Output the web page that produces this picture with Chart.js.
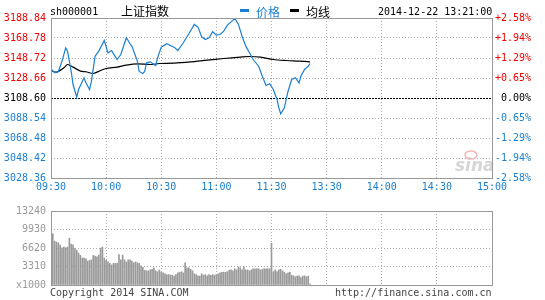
<!DOCTYPE html>
<html>
<head>
<meta charset="utf-8">
<script src="https://cdn.jsdelivr.net/npm/chart.js@4.4.1/dist/chart.umd.min.js"></script>
<style>
  html, body { margin: 0; padding: 0; background: #fff; }
  #wrap { position: relative; width: 545px; height: 300px; overflow: hidden;
          font-family: "DejaVu Sans Mono", monospace; font-size: 10px; }
  canvas { position: absolute; left: 0; }
  #priceChart { top: 0; }
  #volChart { top: 200px; }
  .txt { position: absolute; white-space: nowrap; line-height: 12px; }
  .cjk { font-family: "Noto Sans CJK SC", sans-serif; font-size: 12px; line-height: 14px; }
  .dash { position: absolute; width: 9px; height: 3px; }
</style>
</head>
<body>
<div id="wrap">
  <canvas id="priceChart" width="545" height="200"></canvas>
  <canvas id="volChart" width="545" height="100"></canvas>

  <div class="txt" style="left:50px; top:6px; color:#000;">sh000001</div>
  <div class="txt cjk" style="left:121px; top:4px; color:#000;">上证指数</div>
  <div class="dash" style="left:240px; top:9px; background:#1a7fd0;"></div>
  <div class="txt cjk" style="left:256px; top:5px; color:#1a7fd0;">价格</div>
  <div class="dash" style="left:290px; top:9px; background:#000;"></div>
  <div class="txt cjk" style="left:306px; top:5px; color:#000;">均线</div>
  <div class="txt" style="left:378px; top:6px; color:#000;">2014-12-22 13:21:00</div>

  <div class="txt" style="left:50px; top:287px; color:#444;">Copyright 2014 SINA.COM</div>
  <div class="txt" style="left:335px; top:287px; color:#444;">http://finance.sina.com.cn</div>
</div>

<script>
// axis labels
const timeLabels = ['09:30', '10:00', '10:30', '11:00', '11:30', '13:30', '14:00', '14:30', '15:00'];
const prevClose = 3108.60;
const priceTicks = [3028.36, 3048.42, 3068.48, 3088.54, 3108.60, 3128.66, 3148.72, 3168.78, 3188.84];
const volTicks = [0, 3310, 6620, 9930, 13240];

// price line (minutes since 09:30, trading time only)
const priceMinutes = [0, 2, 4, 6, 8, 9, 11, 12, 14, 15, 18, 19, 21, 22, 24, 26, 29, 31, 33, 34,
  36, 38, 41, 43, 44, 47, 48, 50, 51, 52, 54, 56, 57, 58, 60, 63, 65, 67, 69, 72,
  75, 78, 80, 82, 84, 86, 88, 90, 92, 94, 96, 99, 100, 102, 104, 106, 108, 110, 113, 115,
  117, 119, 121, 123, 124, 125, 127, 129, 131, 133, 135, 136, 138, 140, 141];
const priceValues = [3137.9, 3133.9, 3135.2, 3145.6, 3159.0, 3155.6, 3135.2, 3122.1, 3109.4, 3117.1,
  3128.9, 3123.8, 3117.1, 3125.5, 3150.6, 3155.6, 3166.3, 3153.9, 3156.2, 3152.9,
  3147.2, 3152.2, 3169.0, 3163.0, 3160.6, 3145.6, 3135.2, 3133.2, 3135.2, 3143.9,
  3144.9, 3142.2, 3141.2, 3148.9, 3159.6, 3163.0, 3161.3, 3159.6, 3156.2, 3164.0,
  3173.0, 3182.4, 3179.7, 3170.0, 3167.3, 3169.0, 3175.0, 3171.6, 3172.3, 3175.7,
  3181.7, 3186.4, 3188.6, 3182.4, 3170.6, 3160.6, 3153.9, 3147.2, 3140.5, 3130.5,
  3121.2, 3122.9, 3117.1, 3107.1, 3098.7, 3092.7, 3098.7, 3115.4, 3127.2, 3128.9,
  3123.8, 3130.5, 3137.2, 3140.5, 3143.2];

// average price line
const avgMinutes = [0, 3, 7, 9, 12, 16, 19, 23, 27, 30, 36, 41, 47, 54, 59, 67, 76, 85, 94, 103,
  108, 114, 121, 128, 135, 141];
const avgValues = [3136.2, 3134.5, 3138.9, 3142.2, 3139.6, 3135.6, 3134.9, 3133.2, 3136.2, 3138.2,
  3139.6, 3141.6, 3142.9, 3142.2, 3143.2, 3143.6, 3144.9, 3146.6, 3148.2, 3149.6,
  3150.2, 3149.6, 3147.2, 3146.2, 3145.6, 3144.9];

// volume per minute (x1000), index = minute
const volValues = [13240, 9160, 7840, 7680, 7570, 7150, 6670, 6780, 6670, 6780,
  8370, 7310, 7200, 6510, 6250, 5720, 5300, 4820, 4820, 4660,
  4290, 4400, 4500, 5300, 5190, 5030, 5350, 6620, 6780, 4820,
  4400, 4130, 3870, 3600, 3870, 3870, 3870, 5460, 4500, 5350,
  4500, 4130, 4500, 4500, 4290, 3970, 4130, 3970, 3870, 3440,
  3180, 2650, 2540, 2540, 2700, 2810, 3070, 2540, 2380, 2700,
  2280, 2170, 2010, 1850, 1850, 1800, 1750, 1590, 1850, 2170,
  2280, 2380, 2170, 3970, 3070, 3070, 2810, 2540, 2010, 1850,
  1640, 1590, 2010, 1750, 1850, 1640, 1850, 1750, 1850, 1750,
  1850, 2010, 2170, 2280, 2280, 2280, 2380, 2650, 2700, 2540,
  2910, 2700, 3230, 3070, 2700, 3230, 2700, 2700, 2540, 2700,
  2910, 2910, 2910, 2910, 2700, 2810, 2910, 2910, 2910, 2910,
  7470, 2380, 2700, 2380, 2700, 2810, 2540, 2280, 2010, 2170,
  2280, 1750, 1640, 1480, 1590, 1640, 1320, 1590, 1640, 1480,
  1590, 160];

const RED = '#f00000';
const BLUE = '#1a7fd0';
const GRID = '#aaaaaa';
const FONT = { family: '"DejaVu Sans Mono", monospace', size: 10 };

const tickColor = (v) => {
  if (Math.abs(v - prevClose) < 0.001) return '#000';
  return v > prevClose ? RED : BLUE;
};

const framePlugin = {
  id: 'frame',
  beforeDatasetsDraw(chart, args, opts) {
    const { ctx, chartArea: a } = chart;
    if (opts.baseline) {
      const y = Math.round(chart.scales.y.getPixelForValue(prevClose)) + 0.5;
      ctx.save();
      ctx.strokeStyle = '#000';
      ctx.lineWidth = 1;
      ctx.setLineDash([2, 1]);
      ctx.beginPath();
      ctx.moveTo(a.left, y);
      ctx.lineTo(a.right, y);
      ctx.stroke();
      ctx.restore();
    }
    if (opts.logo) {
      ctx.save();
      ctx.fillStyle = '#d6d6d6';
      ctx.font = 'italic bold 17px "DejaVu Sans", sans-serif';
      ctx.fillText('sina', 455, 171);
      ctx.strokeStyle = '#f2b8b8';
      ctx.lineWidth = 1.5;
      ctx.beginPath();
      ctx.ellipse(471, 155, 6, 4, 0, 0, Math.PI * 2);
      ctx.stroke();
      ctx.restore();
    }
  },
  afterDraw(chart) {
    const { ctx, chartArea: a } = chart;
    ctx.save();
    ctx.strokeStyle = '#999';
    ctx.lineWidth = 1;
    ctx.strokeRect(Math.floor(a.left) + 0.5, Math.floor(a.top) + 0.5,
      Math.round(a.right - a.left), Math.round(a.bottom - a.top));
    ctx.restore();
  }
};

const xScale = (showLabels, height) => ({
  type: 'linear',
  min: 0,
  max: 240,
  offset: false,
  afterBuildTicks: (s) => { s.ticks = timeLabels.map((t, i) => ({ value: i * 30 })); },
  afterFit: (s) => { s.height = height; },
  ticks: {
    display: showLabels,
    autoSkip: false,
    maxRotation: 0,
    padding: 3,
    color: BLUE,
    font: FONT,
    callback: (v, i) => timeLabels[i]
  },
  grid: { color: GRID, drawTicks: false, offset: false },
  border: { display: false, dash: [1, 2] }
});

new Chart(document.getElementById('priceChart'), {
  type: 'line',
  data: {
    datasets: [
      {
        label: '价格',
        data: priceMinutes.map((m, i) => ({ x: m, y: priceValues[i] })),
        borderColor: BLUE,
        borderWidth: 1.2,
        pointRadius: 0,
        tension: 0
      },
      {
        label: '均线',
        data: avgMinutes.map((m, i) => ({ x: m, y: avgValues[i] })),
        borderColor: '#000',
        borderWidth: 1.2,
        pointRadius: 0,
        tension: 0.3
      }
    ]
  },
  options: {
    responsive: false,
    animation: false,
    layout: { padding: { top: 18 } },
    plugins: {
      legend: { display: false },
      tooltip: { enabled: false },
      frame: { baseline: true, logo: true }
    },
    scales: {
      x: xScale(true, 22),
      y: {
        position: 'left',
        min: priceTicks[0],
        max: priceTicks[priceTicks.length - 1],
        afterBuildTicks: (s) => { s.ticks = priceTicks.map(v => ({ value: v })); },
        afterFit: (s) => { s.width = 51; },
        ticks: {
          padding: 5,
          font: FONT,
          color: (c) => tickColor(c.tick.value),
          callback: (v) => v.toFixed(2)
        },
        grid: {
          drawTicks: false,
          color: (c) => Math.abs(c.tick.value - prevClose) < 0.001 ? 'rgba(0,0,0,0)' : GRID
        },
        border: { display: false, dash: [1, 2] }
      },
      y1: {
        position: 'right',
        min: priceTicks[0],
        max: priceTicks[priceTicks.length - 1],
        afterBuildTicks: (s) => { s.ticks = priceTicks.map(v => ({ value: v })); },
        afterFit: (s) => { s.width = 53; },
        ticks: {
          padding: 3,
          font: FONT,
          color: (c) => tickColor(c.tick.value),
          callback: (v) => {
            const pct = (v - prevClose) / prevClose * 100;
            const sign = pct > 0.0001 ? '+' : (pct < -0.0001 ? '-' : ' ');
            return sign + Math.abs(pct).toFixed(2) + '%';
          }
        },
        grid: { display: false, drawTicks: false },
        border: { display: false }
      }
    }
  },
  plugins: [framePlugin]
});

new Chart(document.getElementById('volChart'), {
  type: 'bar',
  data: {
    datasets: [{
      label: 'volume',
      data: volValues.map((v, i) => ({ x: i, y: v })),
      backgroundColor: '#9a9a9a',
      barThickness: 1,
      borderWidth: 0
    }]
  },
  options: {
    responsive: false,
    animation: false,
    layout: { padding: { top: 1, right: 53 } },
    plugins: {
      legend: { display: false },
      tooltip: { enabled: false },
      frame: { baseline: false, logo: false }
    },
    scales: {
      x: xScale(false, 15),
      y: {
        min: 0,
        max: volTicks[volTicks.length - 1],
        afterBuildTicks: (s) => { s.ticks = volTicks.map(v => ({ value: v })); },
        afterFit: (s) => { s.width = 51; },
        ticks: {
          padding: 5,
          font: FONT,
          color: '#999',
          callback: (v) => v === 0 ? 'x1000' : String(v)
        },
        grid: { color: GRID, drawTicks: false },
        border: { display: false, dash: [1, 2] }
      }
    }
  },
  plugins: [framePlugin]
});
</script>
</body>
</html>
